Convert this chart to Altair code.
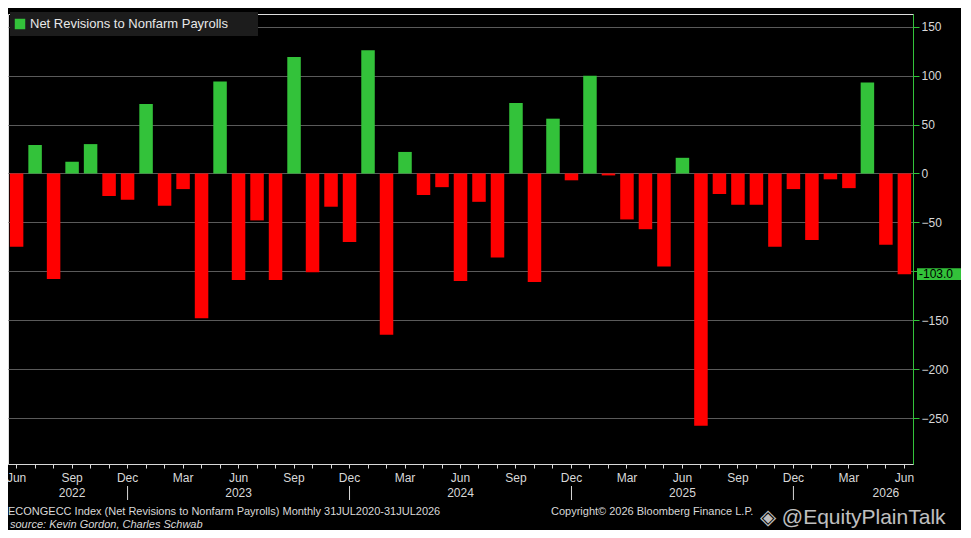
import altair as alt
import pandas as pd

meses = pd.period_range("2022-06", "2026-06", freq="M").strftime("%Y-%m").tolist()
revisoes = [-75, 29, -108, 12, 30, -23, -27, 71, -33, -16,
            -148, 94, -109, -48, -109, 119, -101, -34, -70, 126,
            -165, 22, -22, -14, -110, -29, -86, 72, -111, 56,
            -7, 100, -2, -47, -57, -95, 16, -258, -21, -32,
            -32, -75, -16, -68, -6, -15, 93, -73, -103]
anos = ["2022", "2023", "2024", "2025", "2026"]
anos_mes = ["2022-09", "2023-06", "2024-06", "2025-06", "2026-05"]
separadores = ["2022-12", "2023-12", "2024-12", "2025-12"]
ticks_y = [-250, -200, -150, -100, -50, 0, 50, 100, 150]

W, H = 905, 450
VERDE = "#33c23a"
VERMELHO = "#ff0000"

df = pd.DataFrame({"Mes": meses, "Valor": revisoes})
df["Cor"] = ["pos" if v >= 0 else "neg" for v in revisoes]

x = alt.X("Mes:O", scale=alt.Scale(domain=meses, paddingInner=0.27, paddingOuter=0.1),
          axis=alt.Axis(title=None, labelAngle=0, labelColor="#d8d8d8", labelFontSize=12,
                        labelExpr="indexof(['03','06','09','12'], slice(datum.value, 5)) >= 0 ? "
                                  "timeFormat(toDate(datum.value + '-15'), '%b') : ''",
                        domainColor="#d8d8d8", tickColor="#d8d8d8", tickSize=4,
                        labelPadding=4, grid=False))
y = alt.Y("Valor:Q", scale=alt.Scale(domain=[-297, 163], nice=False, zero=False),
          axis=alt.Axis(orient="right", title=None, values=ticks_y,
                        labelExpr="datum.value == -100 ? '' : datum.label",
                        labelColor="#d8d8d8", labelFontSize=12, domainColor=VERDE,
                        tickColor=VERDE, tickSize=6, gridColor="#5a5a5a",
                        labelPadding=2, labelOverlap=False))

barras = alt.Chart(df).mark_bar().encode(
    x=x, y=y, y2=alt.datum(0),
    color=alt.Color("Cor:N", scale=alt.Scale(domain=["pos", "neg"], range=[VERDE, VERMELHO]), legend=None),
)

df_anos = pd.DataFrame({"Mes": anos_mes, "Ano": anos})
txt_anos = alt.Chart(df_anos).mark_text(color="#d8d8d8", fontSize=12, baseline="top").encode(
    x=alt.X("Mes:O", scale=alt.Scale(domain=meses)), y=alt.value(H + 24), text="Ano:N")

df_sep = pd.DataFrame({"Mes": separadores})
sep = alt.Chart(df_sep).mark_rule(color="#d8d8d8").encode(
    x=alt.X("Mes:O", scale=alt.Scale(domain=meses)), y=alt.value(H + 22), y2=alt.value(H + 36))

ultimo = revisoes[-1]
df_tag = pd.DataFrame({"a": [ultimo + 6], "b": [ultimo - 6], "v": [ultimo], "t": [f"{ultimo:.1f}"]})
tag = alt.Chart(df_tag).mark_rect(color=VERDE).encode(
    x=alt.value(W + 4), x2=alt.value(W + 48), y="a:Q", y2="b:Q")
tag_txt = alt.Chart(df_tag).mark_text(color="#000000", fontSize=12, align="left").encode(
    x=alt.value(W + 6), y="v:Q", text="t:N")

fundo_leg = alt.Chart(df.head(1)).mark_rect(color="#1c1c1c").encode(
    x=alt.value(2), x2=alt.value(250), y=alt.value(-2), y2=alt.value(22))
quad_leg = alt.Chart(df.head(1)).mark_square(color=VERDE, size=110, opacity=1).encode(
    x=alt.value(12), y=alt.value(10))
txt_leg = alt.Chart(df.head(1)).mark_text(color="#e8e8e8", fontSize=13, align="left").encode(
    x=alt.value(22), y=alt.value(10), text=alt.value("Net Revisions to Nonfarm Payrolls"))

rodape1 = alt.Chart(df.head(1)).mark_text(color="#d8d8d8", fontSize=11, align="left").encode(
    x=alt.value(0), y=alt.value(H + 48),
    text=alt.value("ECONGECC Index (Net Revisions to Nonfarm Payrolls) Monthly 31JUL2020-31JUL2026"))
rodape2 = alt.Chart(df.head(1)).mark_text(color="#d8d8d8", fontSize=11, align="left", fontStyle="italic").encode(
    x=alt.value(2), y=alt.value(H + 61), text=alt.value("source: Kevin Gordon, Charles Schwab"))
rodape3 = alt.Chart(df.head(1)).mark_text(color="#d8d8d8", fontSize=11, align="left").encode(
    x=alt.value(543), y=alt.value(H + 48),
    text=alt.value("Copyright© 2026 Bloomberg Finance L.P."))
marca = alt.Chart(df.head(1)).mark_text(color="#ffffff", fontSize=21, align="left", opacity=0.75).encode(
    x=alt.value(752), y=alt.value(H + 54), text=alt.value("◈ @EquityPlainTalk"))

chart = alt.layer(
    fundo_leg, barras, sep, txt_anos, tag, tag_txt, quad_leg, txt_leg,
    rodape1, rodape2, rodape3, marca
).properties(
    width=W, height=H, background="#000000",
    autosize=alt.AutoSizeParams(type="none"),
    padding={"left": 0, "top": 6, "right": 48, "bottom": 66},
).configure_view(stroke=None).configure(font="Liberation Sans")

chart.save("out.html", embed_options={"renderer": "svg", "actions": False})
